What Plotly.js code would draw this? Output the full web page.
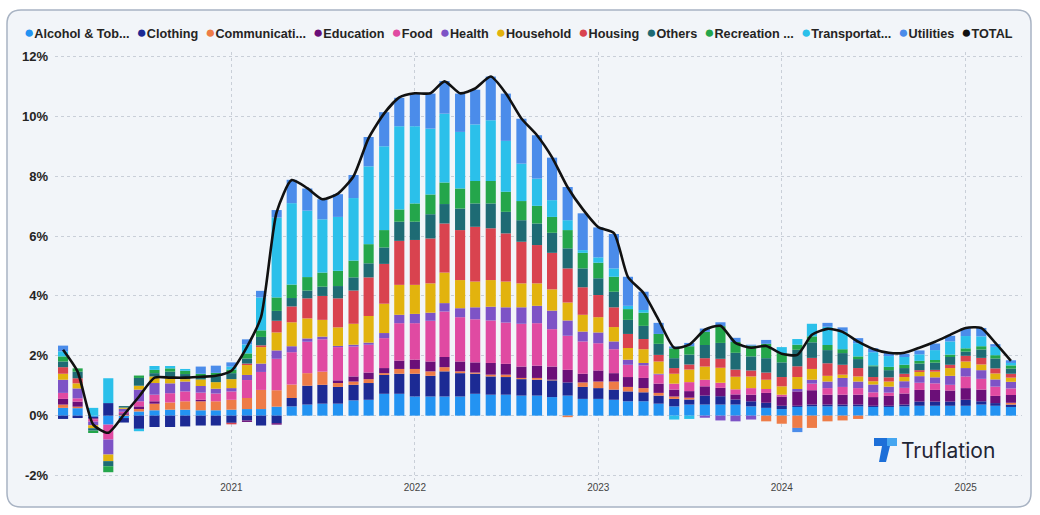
<!DOCTYPE html>
<html><head><meta charset="utf-8">
<script src="https://cdn.plot.ly/plotly-3.0.1.min.js"></script>
<style>html,body{margin:0;padding:0;background:#fff}#chart{width:1040px;height:515px}</style>
</head><body><div id="chart"></div>
<script>
const months = ['2020-02','2020-03','2020-04','2020-05','2020-06','2020-07','2020-08','2020-09','2020-10','2020-11','2020-12',
'2021-01','2021-02','2021-03','2021-04','2021-05','2021-06','2021-07','2021-08','2021-09','2021-10','2021-11','2021-12',
'2022-01','2022-02','2022-03','2022-04','2022-05','2022-06','2022-07','2022-08','2022-09','2022-10','2022-11','2022-12',
'2023-01','2023-02','2023-03','2023-04','2023-05','2023-06','2023-07','2023-08','2023-09','2023-10','2023-11','2023-12',
'2024-01','2024-02','2024-03','2024-04','2024-05','2024-06','2024-07','2024-08','2024-09','2024-10','2024-11','2024-12',
'2025-01','2025-02','2025-03','2025-04'];

const alcohol = [.26,.25,-.04,-.3,-.08,.14,.18,.2,.2,.18, .18,.2,.22,.22,.3,.31,.37,.4,.4,.51, .53,.73,.73,.64,.64,.64,.64,.73,.7,.7, .67,.67,.62,.67,.56,.56,.53,.48,.48,.4, .31,.37,.37,.37,.37,.31,.26,.22,.29,.31, .31,.31,.31,.29,.29,.31,.33,.33,.33,.33, .37,.33,.29];
const clothing = [-.11,-.08,-.05,.42,-.15,-.44,-.38,-.38,-.36,-.33, -.33,-.24,-.16,-.33,-.25,.28,.63,.63,.56,.52, .56,.63,.67,.76,.69,.84,.78,.67,.61,.59, .55,.53,.56,.44,.4,.36,.34,.33,.3,.27, .25,.17,.3,.28,.17,.17,.17,.11,.04,.06, .06,.06,.06,.04,.04,.06,.14,.14,.14,.2, .11,.09,.08];
const communication = [.11,.05,0,0,.03,.08,.22,.24,.28,.3, .3,.33,.37,.64,.55,.45,.42,.44,.13,.11, .13,.06,.16,.16,.15,.14,.06,.04,.06,.08, .04,.06,.02,-.05,.15,.22,.27,.15,.14,.09, .08,.06,0,0,0,0,-.19,-.27,-.41,-.41, -.19,-.16,-.11,0,0,0,0,0,0,0, 0,0,.06];
const education = [.19,.17,-.03,0,.05,.09,.08,0,0,.05, 0,0,-.05,0,-.05,0,0,0,.09,.17, .22,.17,.28,.31,.33,.34,.33,.34,.39,.36, .38,.41,.44,.42,.29,.37,.28,.33,.34,.31, .23,.22,.31,.28,.17,.22,.33,.31,.48,.48, .33,.33,.33,.29,.33,.37,.39,.39,.37,.39, .39,.24,.26];
const food = [.2,.11,-.08,-.5,.05,.17,.22,.31,.33,.24, .26,.28,.6,.6,1.05,1.08,1.05,1.08,1.11,1.0, .93,1.0,1.25,1.22,1.36,1.52,1.48,1.44,1.42,1.38, 1.43,1.42,1.25,1.14,1.08,.91,.8,.41,.42,.3, .2,.3,.22,.17,.17,.22,.13,.06,0,.22, .22,.26,.22,.16,.11,.19,.24,.22,.19,.39, .36,.31,.22];
const health = [.44,.33,-.12,-.5,.1,.39,.39,.33,.33,.22, .16,.11,.17,.28,.28,.2,.11,.09,.04,.06, .07,.17,.28,.31,.27,.28,.3,.4,.46,.51, .55,.58,.62,.51,.33,.36,.26,.17,.08,.03, 0,0,-.07,-.16,-.19,-.13,0,0,.08,.13, .22,.3,.22,.26,.2,.22,.22,.2,.3,.28, .29,.24,.22];
const household = [.2,.17,-.1,-.22,.04,.13,.22,.17,.08,.22, .22,.3,.33,.55,.6,.8,.67,.56,.62,.7, .89,.98,1.0,.97,.98,1.02,.94,.86,.89,.86, .8,.75,.71,.6,.56,.51,.48,.39,.46,.41, .33,.42,.44,.5,.42,.39,.31,.28,.4,.36, .19,.11,.17,.11,.17,.14,.14,.19,.26,.22, .19,.2,.14];
const housing = [.22,.17,0,0,0,0,0,0,0,0, 0,-.05,.05,.06,.39,.53,.67,.8,.97,1.11, 1.29,1.33,1.47,1.5,1.5,1.64,1.67,1.83,1.73,1.61, 1.39,1.28,1.22,1.14,.92,.74,.66,.47,.34,.22, .19,.17,.28,.3,.24,.2,.24,.31,.36,.37, .42,.33,.28,.14,.14,.11,.06,.06,.11,.19, .22,.17,.13];
const others = [.19,.22,-.08,-.17,.05,.26,.11,.22,.17,.1, .2,.2,.17,.28,.33,.28,.26,.31,.41,.44, .47,.55,.64,.61,.81,.65,.72,.78,.83,.72, .72,.72,.67,.67,.63,.56,.52,.47,.44,.37, .33,.33,.44,.53,.56,.47,.48,.49,.55,.52, .44,.39,.3,.36,.24,.19,.22,.24,.26,.14, .28,.33,.17];
const recreation = [.17,.11,-.08,-.2,0,.08,.11,.11,.11,.09, .11,.12,.17,.22,.45,.45,.45,.47,.51,.56, .64,.58,.41,.61,.66,.72,.67,.75,.75,.67, .64,.59,.53,.61,.52,.52,.5,.36,.44,.33, .33,.28,.44,.56,.36,.36,.48,.31,.17,.2, .17,.13,.09,.03,.11,.11,.09,.09,.08,.11, .11,.11,.11];
const transportation = [.17,0,.26,.83,0,-.08,.13,.08,.06,0, 0,.1,.3,1.1,2.67,2.72,2.22,1.78,1.8,2.09, 2.6,2.8,2.78,2.58,2.2,2.3,1.89,1.89,2.03,1.7, 1.25,.91,.56,.33,.09,.18,.28,.11,.09,0, -.13,-.11,0,0,0,0,0,.2,.19,.42, .61,.59,.44,.44,.36,.26,.22,.33,.44,.41, .33,.28,.08];
const utilities = [.19,0,0,0,0,0,0,0,0,.24, .24,.14,.17,.22,.25,.78,.74,.67,.76,.77, .98,1.14,.95,1.09,1.17,1.09,1.28,1.16,1.46,1.58, 1.5,1.45,1.42,1.11,1.23,1.0,1.15,.97,.61,.37, .06,.11,.11,.13,.14,.03,.13,0,-.14,0, .13,.14,.17,.13,.11,.11,.13,.22,.19,.26, .28,.09,.09];
const total = [2.2,1.47,-0.3,-0.57,0.03,0.63,1.27,1.27,1.27,1.3,1.33,1.5,2.3,3.3,6.8,7.87,7.6,7.23,7.42,8.0,9.27,10.1,10.63,10.77,10.77,11.17,10.77,10.93,11.33,10.77,9.93,9.37,8.63,7.63,6.9,6.3,6.1,4.63,4.1,3.2,2.27,2.37,2.87,3.0,2.43,2.27,2.33,2.07,2.03,2.7,2.9,2.8,2.47,2.23,2.1,2.1,2.27,2.47,2.7,2.93,2.93,2.43,1.83];

const seriesNames = ['Alcohol & Tobacco','Clothing','Communication','Education','Food','Health','Household','Housing','Others','Recreation & Culture','Transportation','Utilities'];
const legendLabels = ['Alcohol & Tob...','Clothing','Communicati...','Education','Food','Health','Household','Housing','Others','Recreation ...','Transportat...','Utilities','TOTAL'];
const yTickVals = [-2,0,2,4,6,8,10,12];
const yTickText = ['-2%','0%','2%','4%','6%','8%','10%','12%'];
const xTickVals = ['2021-01-01','2022-01-01','2023-01-01','2024-01-01','2025-01-01'];
const xTickText = ['2021','2022','2023','2024','2025'];

const seriesValues = [alcohol,clothing,communication,education,food,health,household,housing,others,recreation,transportation,utilities];
const colors = ['#2393f2','#1c2a94','#ee7c47','#6b0f78','#e04aa2','#7d53c6','#e2b30e','#d9434f','#1e6b74','#24a64b','#2bc0ea','#4b8cea','#111111'];

const traces = seriesValues.map((vals,i)=>({
  type:'bar', name:seriesNames[i], x:months, y:vals,
  marker:{color:colors[i], line:{width:0}}, showlegend:false
}));
traces.push({type:'scatter', mode:'lines', name:'TOTAL', x:months, y:total,
  line:{color:'#111111', width:2.6, shape:'spline', smoothing:0.6}, showlegend:false});

const W=1040,H=515, ml=55, mr=18, mt=52, mb=35;
const pw=W-ml-mr, ph=H-mt-mb;
const px=(x)=>(x-ml)/pw, py=(y)=>(H-mb-y)/ph;

// legend as one line of text
const legendText = legendLabels.map((l,i)=>'<span style="color:'+colors[i]+';font-size:17px">●</span><b>'+l+'</b>').join('\u00a0\u00a0');

// rounded panel border
const x0=7,y0=10,x1=1031,y1=507,r=14;
const P=(x,y)=>px(x).toFixed(5)+','+py(y).toFixed(5);
const panelPath='M'+P(x0+r,y0)+' L'+P(x1-r,y0)+' Q'+P(x1,y0)+' '+P(x1,y0+r)+' L'+P(x1,y1-r)+' Q'+P(x1,y1)+' '+P(x1-r,y1)+
  ' L'+P(x0+r,y1)+' Q'+P(x0,y1)+' '+P(x0,y1-r)+' L'+P(x0,y0+r)+' Q'+P(x0,y0)+' '+P(x0+r,y0)+' Z';
// logo icon
const logo1='M'+P(874,438)+' L'+P(887,438)+' L'+P(887,446)+' L'+P(874,446)+' Z';
const logo2='M'+P(887,438)+' L'+P(897,438)+' L'+P(897,446)+' L'+P(887,446)+' Z';
const logo3='M'+P(882,446)+' L'+P(890,446)+' L'+P(886,462)+' L'+P(879,462)+' Z';

const layout = {
  width:W, height:H,
  margin:{l:ml,r:mr,t:mt,b:mb},
  paper_bgcolor:'#ffffff', plot_bgcolor:'rgba(0,0,0,0)',
  barmode:'relative', bargap:0.28,
  showlegend:false, hovermode:false,
  font:{family:'"Liberation Sans", Arial, sans-serif', color:'#252423'},
  xaxis:{type:'date', range:['2020-01-16','2025-04-23'], tickmode:'array', tickvals:xTickVals, ticktext:xTickText,
    tickfont:{size:10, color:'#444'}, showgrid:true, gridcolor:'#c9cfd8', griddash:'dot', gridwidth:1,
    zeroline:false, showline:false, ticks:''},
  yaxis:{range:[-2.15,12.15], tickmode:'array', tickvals:yTickVals, ticktext:yTickText, ticklabelstandoff:6,
    tickfont:{size:13, color:'#252423', weight:700}, showgrid:true, gridcolor:'#c9cfd8', griddash:'dot', gridwidth:1,
    zeroline:false, showline:false, ticks:''},
  shapes:[
    {type:'path', xref:'paper', yref:'paper', path:panelPath, fillcolor:'#f2f5f9', line:{color:'#a8b3c3', width:1.5}, layer:'below'},
    {type:'path', xref:'paper', yref:'paper', path:logo1, fillcolor:'#1d6fd8', line:{width:0}},
    {type:'path', xref:'paper', yref:'paper', path:logo2, fillcolor:'#46a6f0', line:{width:0}},
    {type:'path', xref:'paper', yref:'paper', path:logo3, fillcolor:'#1d6fd8', line:{width:0}}
  ],
  annotations:[
    {xref:'paper', yref:'paper', x:px(22), y:py(32), xanchor:'left', yanchor:'middle', showarrow:false,
     text:legendText, font:{size:12.65, color:'#252423', family:'"Liberation Sans", Arial, sans-serif'}},
    {xref:'paper', yref:'paper', x:px(899), y:py(450), xanchor:'left', yanchor:'middle', showarrow:false,
     text:'Truflation', font:{size:21, color:'#1f2535', family:'Inter, "Liberation Sans", sans-serif'}}
  ]
};

Plotly.newPlot('chart', traces, layout, {staticPlot:true, displayModeBar:false});
</script>
</body></html>
